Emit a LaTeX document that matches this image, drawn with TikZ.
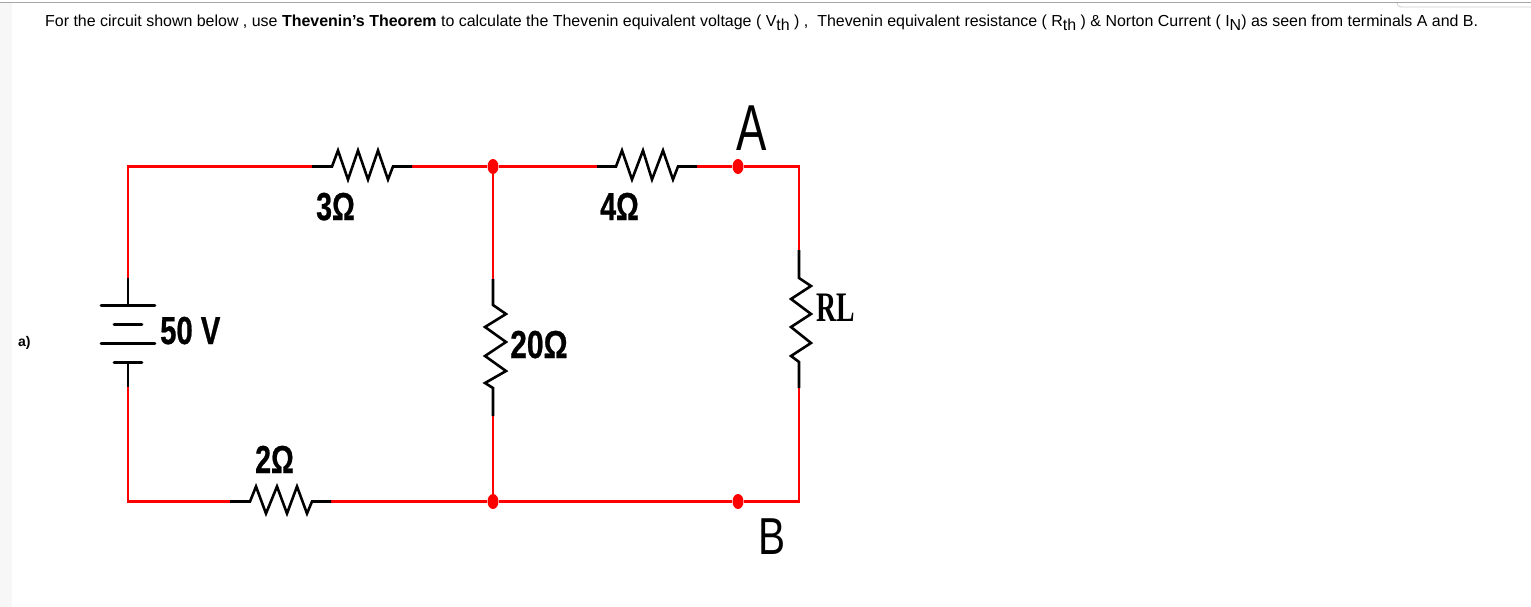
\documentclass[tikz,border=0pt]{standalone}
\usepackage{fontspec}
\setmainfont{Liberation Sans}
\newfontfamily\rlfont{Liberation Serif}
\newfontfamily\valfont[FakeBold=0.8]{Liberation Sans Bold}
\usetikzlibrary{shapes.geometric}
\newcommand{\squeezed}[2]{\scalebox{#1}[1]{#2}}
\newcommand{\lowered}[1]{\raisebox{-3.5pt}{#1}}
\tikzset{
  wire/.style={draw=red,line width=2.9pt},
  lead/.style={draw=black,line width=2.6pt,line join=miter},
  plate/.style={draw=black,line width=2.9pt,line cap=round},
  dot/.style={ellipse,fill=red,inner sep=0pt,minimum width=11pt,minimum height=15pt},
  val/.style={font=\valfont\fontsize{39}{39}\selectfont,inner sep=0pt,anchor=base west},
  term/.style={font=\fontsize{65}{65}\selectfont,inner sep=0pt,anchor=base west}
}
\begin{document}
\begin{tikzpicture}[x=1pt,y=-1pt]
\useasboundingbox (0,0) rectangle (1531,607);
\fill[black!3] (0,3) rectangle (12,607);
\draw[black!35,line width=1pt] (0,2.5) -- (1531,2.5);
\draw[black!20,line width=0.8pt] (1397,3) to[out=-90,in=180] (1401,7) -- (1531,7);

\node[inner sep=0pt,anchor=base west,font=\fontsize{15.96}{18}\selectfont] (title) at (45,27)
  {For the circuit shown below , use \textbf{Thevenin’s Theorem} to calculate the Thevenin equivalent voltage ( V\lowered{th} ) ,\ \ Thevenin equivalent resistance ( R\lowered{th} ) \& Norton Current ( I\lowered{N}) as seen from terminals A and B.};
\node[inner sep=0pt,anchor=base west,font=\bfseries\fontsize{14}{16}\selectfont] (part) at (18,346) {a)};

% corners and junctions
\coordinate (tl) at (128,166.5);
\coordinate (tr) at (799,166.5);
\coordinate (bl) at (128,501.5);
\coordinate (br) at (799,501.5);
\node[dot] (j1) at (493,166.5) {};
\node[dot] (j2) at (493,501.5) {};
\node[dot] (A) at (738,166.5) {};
\node[dot] (B) at (738,501.5) {};

% ends of the black parts
\coordinate (r3a) at (312,166.5);
\coordinate (r3b) at (412,166.5);
\coordinate (r4a) at (597,166.5);
\coordinate (r4b) at (697,166.5);
\coordinate (r2a) at (230,501.5);
\coordinate (r2b) at (331,501.5);
\coordinate (r20a) at (493,279);
\coordinate (r20b) at (493,416);
\coordinate (rla) at (799,250);
\coordinate (rlb) at (799,388);
\coordinate (bata) at (128,278);
\coordinate (batb) at (128,387);

% red wires
\draw[wire] (bata) -- (tl) -- (r3a);
\draw[wire] (r3b) -- (j1) -- (r4a);
\draw[wire] (r4b) -- (A) -- (tr) -- (rla);
\draw[wire] (rlb) -- (br) -- (B) -- (j2) -- (r2b);
\draw[wire] (r2a) -- (bl) -- (batb);
\draw[wire] (j1) -- (r20a);
\draw[wire] (r20b) -- (j2);

% resistors
\draw[lead] (r3a) -- ++(20,0) -- ++(6,-16) -- ++(10,29) -- ++(10,-29) -- ++(10,29) -- ++(10,-29) -- ++(10,29) -- ++(5,-13) -- (r3b);
\draw[lead] (r4a) -- ++(19,0) -- ++(6,-16) -- ++(10,29) -- ++(11,-29) -- ++(9,29) -- ++(11,-29) -- ++(10,29) -- ++(5,-13) -- (r4b);
\draw[lead] (r2a) -- ++(20,0) -- ++(6,-15) -- ++(10,27) -- ++(11,-27) -- ++(10,27) -- ++(10,-27) -- ++(10,27) -- ++(5,-12) -- (r2b);
\draw[lead] (r20a) -- ++(0,26) -- ++(13,9) -- ++(-21,13) -- ++(21,15) -- ++(-21,14) -- ++(21,15) -- ++(-21,12) -- ++(8,5) -- (r20b);
\draw[lead] (rla) -- ++(0,28) -- ++(12,8) -- ++(-20,13) -- ++(20,15) -- ++(-20,13) -- ++(20,16) -- ++(-20,13) -- ++(8,6) -- (rlb);

% battery
\coordinate (p1) at (128,305);
\coordinate (p4) at (128,362);
\draw[lead] (bata) -- (p1);
\draw[lead] (p4) -- (batb);
\draw[plate] (101,305.5) -- (155,305.5);
\draw[plate] (114,324.5) -- (142,324.5);
\draw[plate] (101,343.5) -- (155,343.5);
\draw[plate] (114,362.5) -- (142,362.5);

% labels
\node[val] (lab50) at (160,344) {\squeezed{.75}{50 V}};
\node[val] (lab3) at (316,220) {\squeezed{.73}{3Ω}};
\node[val] (lab4) at (600,220) {\squeezed{.73}{4Ω}};
\node[val] (lab2) at (255,473) {\squeezed{.73}{2Ω}};
\node[val] (lab20) at (510,358) {\squeezed{.77}{20Ω}};
\node[term] (labA) at (736,150) {\squeezed{.7}{A}};
\node[term,font=\fontsize{52}{52}\selectfont] (labB) at (758,554) {\squeezed{.78}{B}};
\node[inner sep=0pt,anchor=base west,font=\rlfont\bfseries\fontsize{42}{42}\selectfont] (labRL) at (816,321) {\squeezed{.66}{RL}};
\end{tikzpicture}
\end{document}
